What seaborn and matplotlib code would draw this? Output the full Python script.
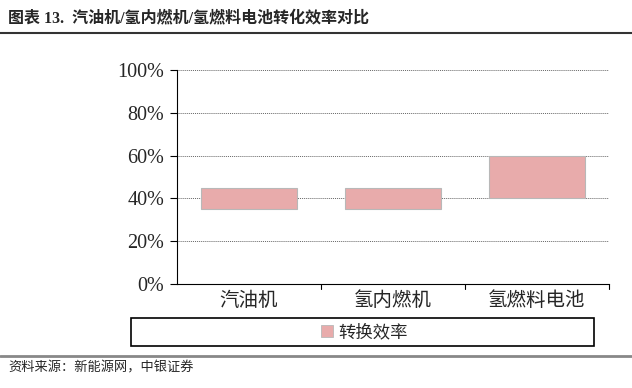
import numpy as np
import pandas as pd
import matplotlib
matplotlib.use("Agg")
import matplotlib.pyplot as plt
import seaborn as sns
from matplotlib.patches import Rectangle, Patch
from matplotlib.lines import Line2D

sns.set_style("white")
plt.rcParams['font.family'] = ['Liberation Serif', 'Noto Sans CJK SC', 'DejaVu Sans']

# 数据
categories = ["汽油机", "氢内燃机", "氢燃料电池"]
eff_low = [35, 35, 40]
eff_high = [45, 45, 60]
yticks = [0, 20, 40, 60, 80, 100]
legend_label = "转换效率"
title = "图表 13.  汽油机/氢内燃机/氢燃料电池转化效率对比"
source = "资料来源：新能源网，中银证券"

df = pd.DataFrame({"cat": categories,
                   "span": np.array(eff_high) - np.array(eff_low),
                   "low": eff_low})

fig = plt.figure(figsize=(6.32, 3.88), dpi=100)
ax = fig.add_axes([177/632, 1-284/388, (609-177)/632, (284-70)/388])

pink = "#e8abab"
sns.barplot(data=df, x="cat", y="span", color=pink, width=0.66,
            saturation=1, edgecolor="#b8b8b8", linewidth=0.8, ax=ax, zorder=3)
# 浮动柱：把每根柱子的底部移到低值
for p, lo in zip(ax.patches, df["low"]):
    p.set_y(lo)

ax.set_ylim(0, 100)
ax.set_xlim(-0.5, 2.5)
ax.set_yticks(yticks)
ax.set_yticklabels([f"{v}%" for v in yticks], fontsize=14.5)
for v in yticks[1:]:
    ax.axhline(v, color="#666666", lw=0.7, ls=(0, (1, 1)), zorder=1)

ax.set_xticks(range(len(categories)))
ax.set_xticklabels(categories, fontsize=14, family=['Noto Sans CJK SC'])
ax.tick_params(axis="x", length=0, pad=4)
ax.tick_params(axis="y", length=5, width=0.8, color="black", direction="out", left=True, pad=4)
# 类别间分隔刻度
for xb in [0.5, 1.5, 2.5]:
    ax.plot([xb, xb], [0, -2.5], color="black", lw=0.8, clip_on=False)
ax.set_xlabel("")
ax.set_ylabel("")
for s in ["top", "right"]:
    ax.spines[s].set_visible(False)
for s in ["left", "bottom"]:
    ax.spines[s].set_color("black")
    ax.spines[s].set_linewidth(0.8)

# 标题与分隔线
fig.text(8/632, 1-18/388, title, fontsize=11.5, fontweight="bold", va="center", ha="left",
         family=['Liberation Serif', 'Noto Sans CJK SC'])
fig.add_artist(Line2D([0, 1], [1-33/388, 1-33/388], color="#333333", lw=1.5))

# 图例框
fig.add_artist(Rectangle((131/632, 1-346/388), (594-131)/632, 28/388,
                         transform=fig.transFigure, fill=False, ec="black", lw=1.2))
fig.legend(handles=[Patch(fc=pink, ec="#b8b8b8", lw=0.6, label=legend_label)],
           loc="center", bbox_to_anchor=(364/632, 1-332/388), frameon=False,
           handlelength=0.7, handleheight=0.7, handletextpad=0.3,
           prop={"family": "Noto Sans CJK SC", "size": 12.5})

fig.add_artist(Line2D([0, 1], [1-356/388, 1-356/388], color="#888888", lw=2))
fig.text(8/632, 1-368/388, source, fontsize=9.5, style="italic", va="center", ha="left",
         family=['Noto Sans CJK SC'])

fig.savefig("out.png", dpi=100)
